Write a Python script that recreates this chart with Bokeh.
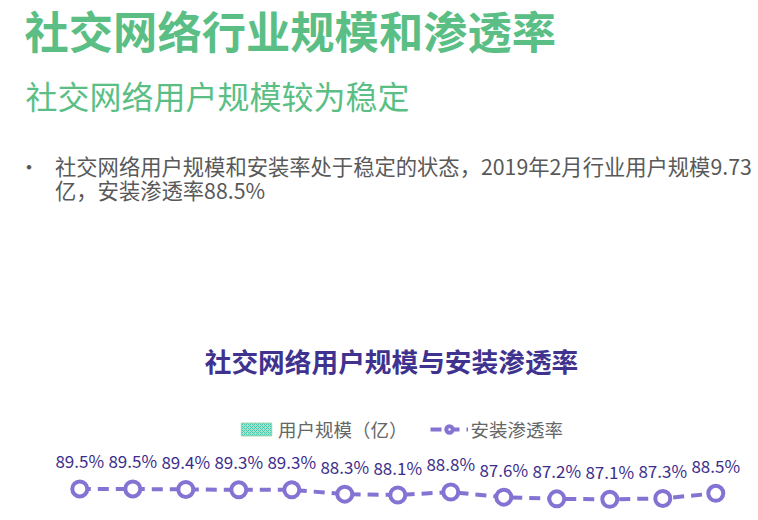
from bokeh.plotting import figure
from bokeh.models import (ColumnDataSource, Range1d, Label, LabelSet, Legend, LegendItem)
from bokeh.core.properties import value
from bokeh.embed import file_html
from bokeh.resources import INLINE

# ---- data ----
months = ["2018.02", "2018.03", "2018.04", "2018.05", "2018.06", "2018.07", "2018.08",
          "2018.09", "2018.10", "2018.11", "2018.12", "2019.01", "2019.02"]
penetration = [89.5, 89.5, 89.4, 89.3, 89.3, 88.3, 88.1, 88.8, 87.6, 87.2, 87.1, 87.3, 88.5]
penetration_labels = [f"{v:.1f}%" for v in penetration]
# only the stated user-scale value is known (bars lie below the visible part of the slide)
scale_months = ["2019.02"]
user_scale = [9.73]

slide_title = "社交网络行业规模和渗透率"
slide_subtitle = "社交网络用户规模较为稳定"
bullet_lines = ["社交网络用户规模和安装率处于稳定的状态，2019年2月行业用户规模9.73",
                "亿，安装渗透率88.5%"]
chart_title = "社交网络用户规模与安装渗透率"
series_names = ["用户规模（亿）", "安装渗透率"]

FONT = "Noto Sans CJK SC"
W, H = 758, 520

p = figure(width=W, height=H, output_backend="svg", toolbar_location=None,
           x_range=Range1d(-1.496, 12.806), y_range=Range1d(82.17, 203.1),
           x_axis_location=None, y_axis_location=None, min_border=0)
p.grid.visible = False
p.outline_line_color = None
p.background_fill_color = "white"
p.border_fill_color = "white"
p.extra_y_ranges = {"scale": Range1d(20, 60)}

src = ColumnDataSource(dict(x=list(range(len(months))), month=months,
                            y=penetration, lab=penetration_labels))
bar_src = ColumnDataSource(dict(x=[months.index(m) for m in scale_months], top=user_scale))

bars = p.vbar(x="x", top="top", width=0.6, source=bar_src, y_range_name="scale",
              fill_color="#a6e4c9", line_color="#7fd4ad", hatch_pattern="x",
              hatch_color="#45c9b3", hatch_scale=4, hatch_weight=1)

line = p.line("x", "y", source=src, line_color="#8573d3", line_width=4, line_dash="11 7")
circ = p.scatter("x", "y", source=src, size=15, marker="circle", fill_color="white",
                 line_color="#8573d3", line_width=4)

labels = LabelSet(x="x", y="y", text="lab", source=src, y_offset=28,
                  text_align="center", text_baseline="middle",
                  text_font=value(FONT), text_font_size=value("17px"),
                  text_color=value("#3d2e8c"))
p.add_layout(labels)

def add_text(txt, x, y_top, size, color, style="normal", align="left"):
    p.add_layout(Label(x=x, y=H - y_top, x_units="screen", y_units="screen", text=txt,
                       text_font=FONT, text_font_size=size, text_color=color,
                       text_font_style=style, text_align=align, text_baseline="middle"))

add_text(slide_title, 24, 29.5, "44.3px", "#5bbf85", "bold")
add_text(slide_subtitle, 25, 94.4, "32px", "#5bbf85")
add_text("•", 18, 165.3, "21px", "#595959")
add_text(bullet_lines[0], 54.5, 165.3, "21.3px", "#595959")
add_text(bullet_lines[1], 54.5, 189.3, "21.3px", "#595959")
add_text(chart_title, 391, 360, "26.7px", "#40338f", "bold", "center")

legend = Legend(items=[LegendItem(label=series_names[0], renderers=[bars], index=0),
                       LegendItem(label=series_names[1], renderers=[line, circ])],
                orientation="horizontal", location=(237, 78),
                label_text_font=FONT, label_text_font_size="18.5px", label_text_color="#666666",
                glyph_width=38, glyph_height=16, label_height=20, label_standoff=3,
                spacing=22, padding=0, margin=0, border_line_color=None,
                background_fill_alpha=0)
p.add_layout(legend)

open("out.html", "w").write(file_html(p, INLINE))
